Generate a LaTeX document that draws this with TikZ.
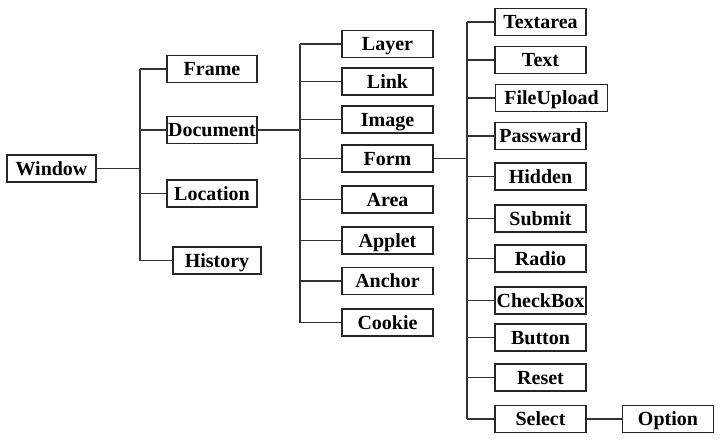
\documentclass[tikz,border=0pt]{standalone}
\usepackage{fontspec}
\setmainfont{Liberation Serif}
\usetikzlibrary{positioning}

\begin{document}
\begin{tikzpicture}[x=1pt,y=-1pt,on grid,node distance=40pt,
	box/.style={draw=black!85,line width=1.6pt,fill=white,minimum width=90pt,minimum height=27pt,inner sep=1pt,text height=14pt,text depth=0.7pt,font=\fontsize{20}{20}\selectfont\bfseries},
	conn/.style={draw=black!80,line width=1.6pt}]
	\useasboundingbox (0,0) rectangle (720,441);
	% first level
	\node[box,minimum width=89pt] (window) at (51.5,168.5) {Window};
	\node[box] (frame) at (212,69) {Frame};
	\node[box] (document) at (212,130) {Document};
	\node[box] (location) at (212,193.5) {Location};
	\node[box,minimum width=88pt] (history) at (217,260.5) {History};
	% document children
	\node[box,minimum width=91pt] (layer) at (387.5,44) {Layer};
	\node[box,minimum width=91pt] (link) [below=37.5pt of layer] {Link};
	\node[box,minimum width=91pt] (image) [below=38pt of link] {Image};
	\node[box,minimum width=91pt] (form) [below=39pt of image] {Form};
	\node[box,minimum width=91pt] (area) [below=41pt of form] {Area};
	\node[box,minimum width=91pt] (applet) [below=41pt of area] {Applet};
	\node[box,minimum width=91pt] (anchor) [below=40.5pt of applet] {Anchor};
	\node[box,minimum width=91pt] (cookie) [below=41.5pt of anchor] {Cookie};
	% form children
	\node[box,minimum width=91pt] (textarea) at (540.5,22) {Textarea};
	\node[box,minimum width=91pt] (text) [below=38pt of textarea] {Text};
	\node[box,minimum width=112pt] (fileupload) [below=38pt of text,xshift=11pt] {FileUpload};
	\node[box,minimum width=91pt] (passward) [below=38pt of fileupload,xshift=-11pt] {Passward};
	\node[box,minimum width=91pt] (hidden) [below=40.5pt of passward] {Hidden};
	\node[box,minimum width=91pt] (submit) [below=42pt of hidden] {Submit};
	\node[box,minimum width=91pt] (radio) [below=40pt of submit] {Radio};
	\node[box,minimum width=91pt] (checkbox) [below=42pt of radio] {CheckBox};
	\node[box,minimum width=91pt] (button) [below=37pt of checkbox] {Button};
	\node[box,minimum width=91pt] (reset) [below=40pt of button] {Reset};
	\node[box,minimum width=91pt] (select) [below=41.5pt of reset] {Select};
	\node[box,minimum width=91pt] (option) [right=127.5pt of select] {Option};

	\coordinate (t1) at (140,0);
	\coordinate (t2) at (300,0);
	\coordinate (t3) at (467,0);

	\draw[conn] (window.east) -- (window.east -| t1);
	\draw[conn] (frame.west -| t1) -- (history.west -| t1);
	\foreach \n in {frame,document,location,history}
		\draw[conn] (\n.west -| t1) -- (\n.west);
	\draw[conn] (document.east) -- (document.east -| t2);
	\draw[conn] (layer.west -| t2) -- (cookie.west -| t2);
	\foreach \n in {layer,link,image,form,area,applet,anchor,cookie}
		\draw[conn] (\n.west -| t2) -- (\n.west);
	\draw[conn] (form.east) -- (form.east -| t3);
	\draw[conn] (textarea.west -| t3) -- (select.west -| t3);
	\foreach \n in {textarea,text,fileupload,passward,hidden,submit,radio,checkbox,button,reset,select}
		\draw[conn] (\n.west -| t3) -- (\n.west);
	\draw[conn] (select) -- (option);
\end{tikzpicture}
\end{document}
